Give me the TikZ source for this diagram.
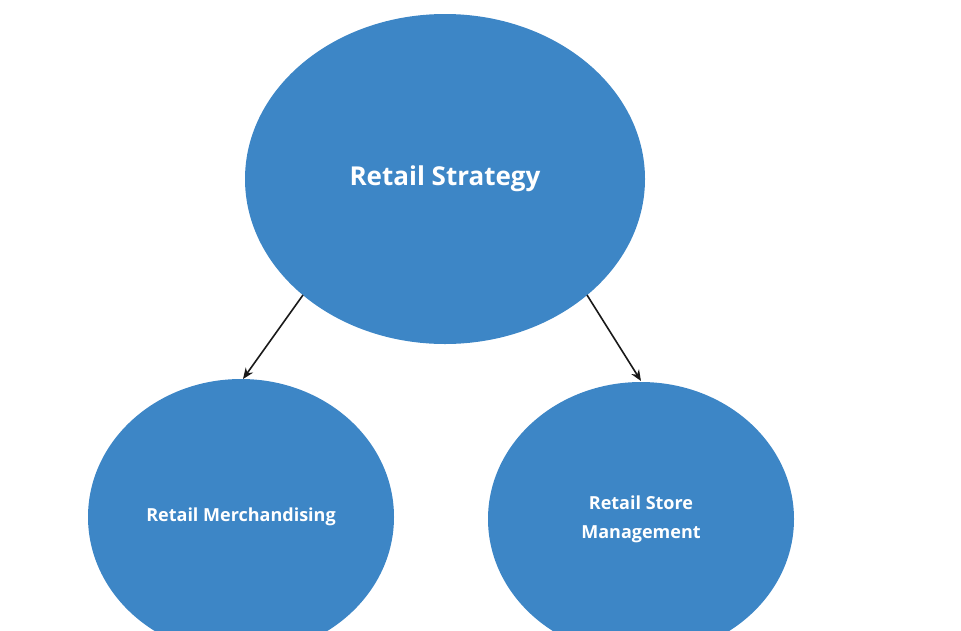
\documentclass[tikz,border=0pt]{standalone}
\usepackage{fontspec}
\setmainfont{Open Sans}
\usetikzlibrary{shapes.geometric,arrows.meta}
\definecolor{bub}{HTML}{3D86C6}
\begin{document}
\begin{tikzpicture}[x=1pt,y=-1pt,
  bubble/.style={ellipse,fill=bub,draw=none,text=white,font=\bfseries,align=center,inner sep=0pt},
  link/.style={draw=black!90,line width=1.6pt,-{Stealth[length=11pt,width=9pt]}}]
\useasboundingbox (0,0) rectangle (961,630);
\clip (0,0) rectangle (961,630);
\node[bubble,minimum width=400pt,minimum height=330pt,font=\bfseries\fontsize{26}{30}\selectfont] (top) at (445,179) {Retail Strategy};
\node[bubble,minimum width=306pt,minimum height=276pt,font=\bfseries\fontsize{18}{22}\selectfont] (bl) at (241,517) {Retail Merchandising};
\node[bubble,minimum width=306pt,minimum height=274pt,font=\bfseries\fontsize{18}{29}\selectfont] (br) at (641,519) {Retail Store\\Management};
\coordinate (a1) at (303,295);
\coordinate (a2) at (243,379);
\coordinate (b1) at (587,295);
\coordinate (b2) at (641,381);
\draw[link] (a1) -- (a2);
\draw[link] (b1) -- (b2);
\end{tikzpicture}
\end{document}
